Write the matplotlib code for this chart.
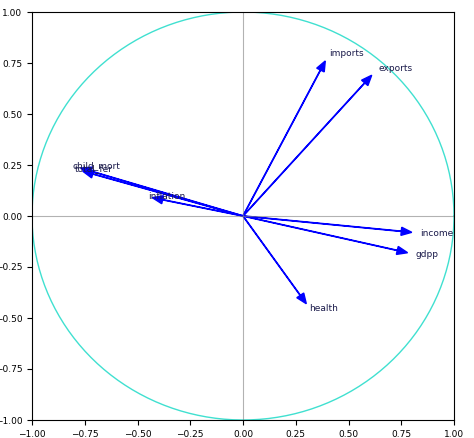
import numpy as np
import matplotlib.pyplot as plt

features = ['child_mort', 'exports', 'health', 'imports', 'income',
            'inflation', 'life_expec', 'total_fer', 'gdpp']
pc1 = [-0.77, 0.61, 0.30, 0.39, 0.80, -0.43, None, -0.76, 0.78]
pc2 = [0.235, 0.69, -0.43, 0.76, -0.08, 0.09, None, 0.22, -0.18]

fig = plt.figure(figsize=(4.74, 4.38), dpi=100)
ax = fig.add_axes([32/474, 18/438, 422/474, 408/438])

for name, x, y in zip(features, pc1, pc2):
    if x is None:
        continue
    ax.arrow(0, 0, x, y, color='blue', head_width=0.04, head_length=0.05,
             length_includes_head=True, width=0.002)
    ax.text(x * 1.05, y * 1.05, name, fontsize=6.5, color='#1a1a4a',
            ha='left', va='center')

t = np.linspace(0, 2 * np.pi, 300)
ax.plot(np.cos(t), np.sin(t), color='turquoise', lw=1)
ax.axhline(0, color='grey', lw=0.8, alpha=0.6)
ax.axvline(0, color='grey', lw=0.8, alpha=0.6)
ax.set_xlim(-1, 1)
ax.set_ylim(-1, 1)
ax.tick_params(labelsize=6.5)
fig.savefig('out.png', dpi=100)
